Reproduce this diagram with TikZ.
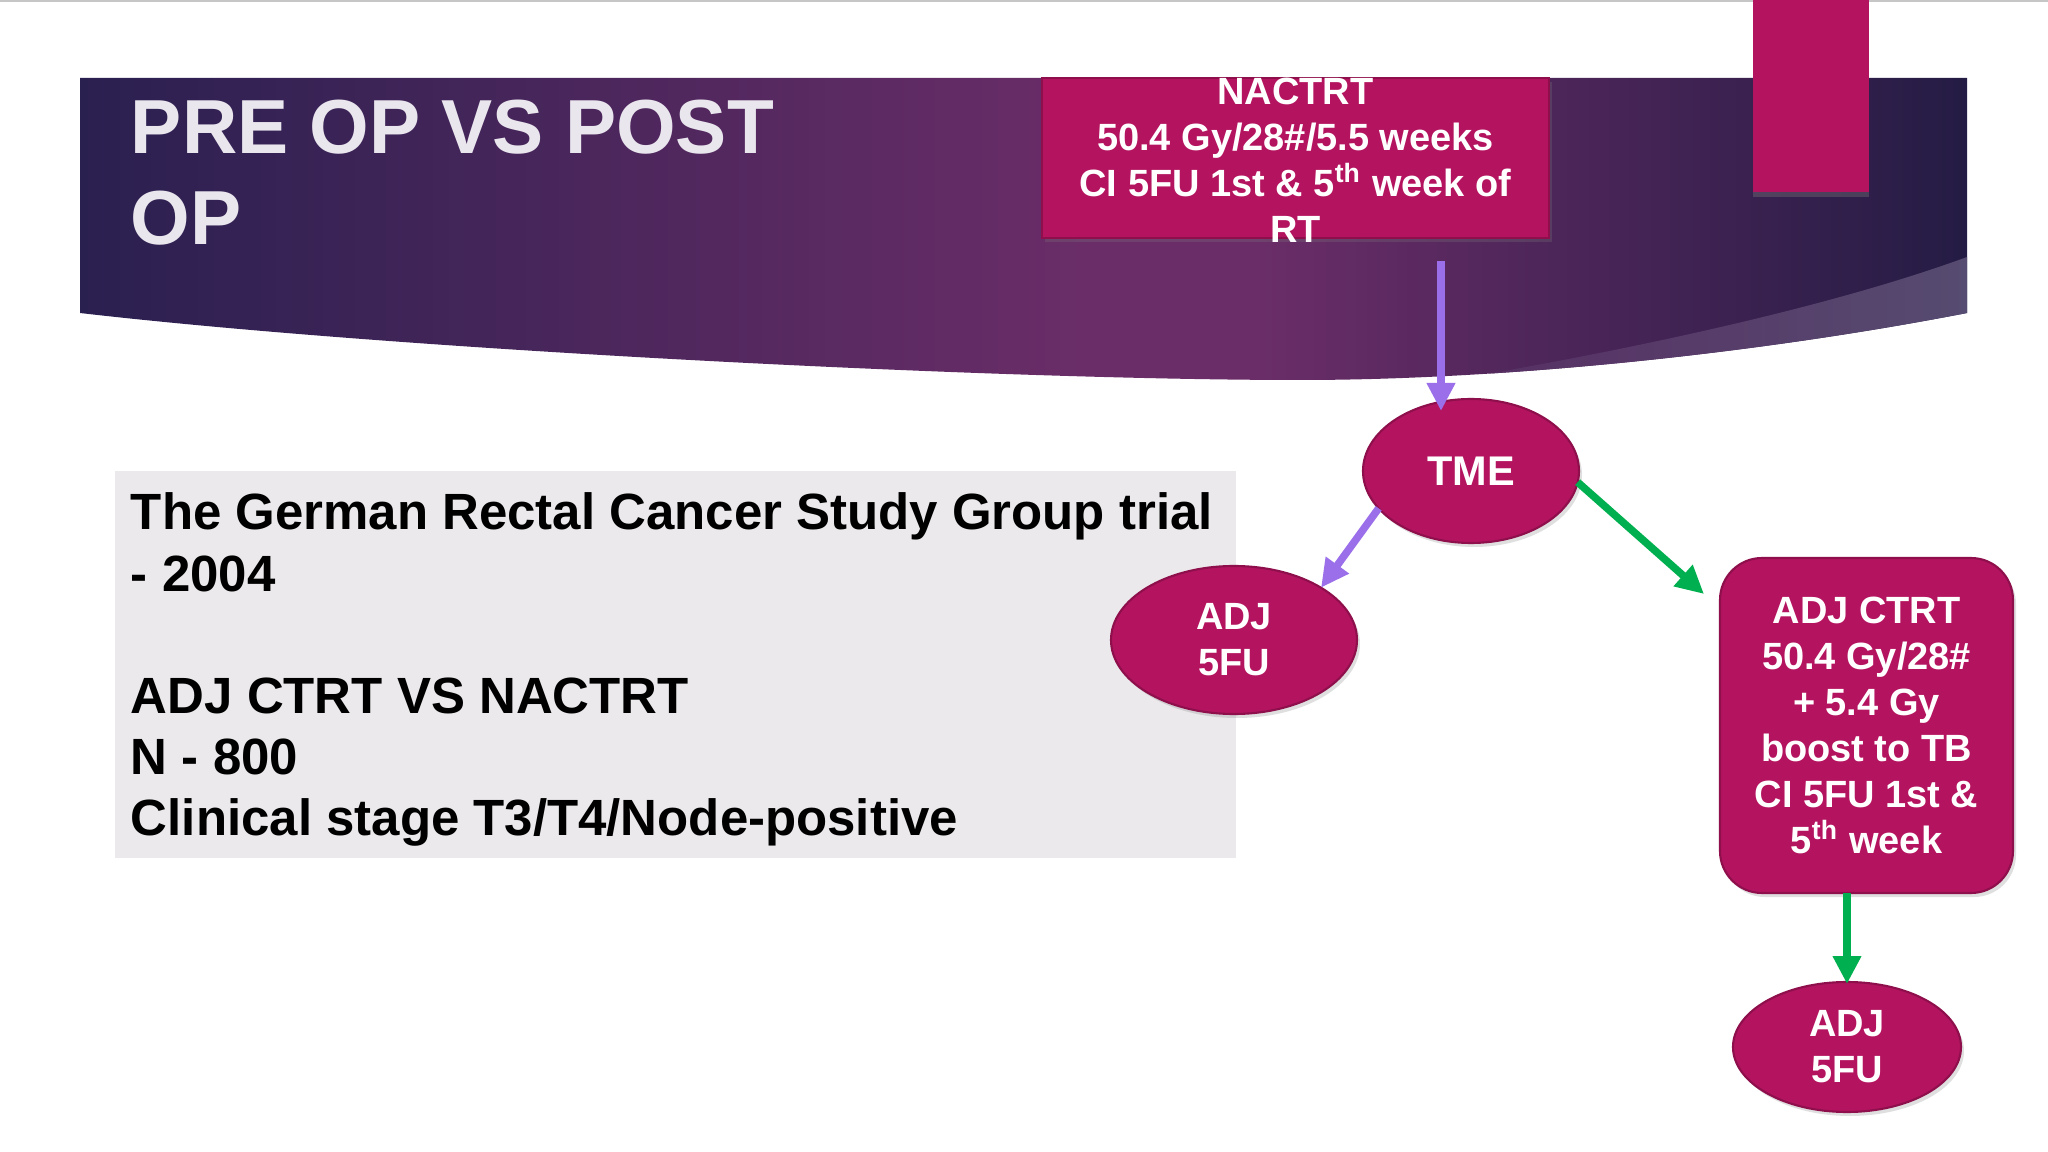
\documentclass[tikz,border=0pt]{standalone}
\usepackage{fontspec}
\setmainfont{Liberation Sans}
\usepackage{tikz}
\usetikzlibrary{shapes.geometric,arrows.meta,shadows}

\definecolor{slidepink}{HTML}{B4145F}
\definecolor{pinkedge}{HTML}{8E0F4C}
\definecolor{navy}{HTML}{2A2050}
\definecolor{plum}{HTML}{6B2D68}
\definecolor{navyright}{HTML}{241C44}
\definecolor{wedgegray}{HTML}{564B70}
\definecolor{studygray}{HTML}{EBE9EB}
\definecolor{titlewhite}{HTML}{EAE6EE}
\definecolor{arrowpurple}{HTML}{9B6FEA}
\definecolor{arrowgreen}{HTML}{00B050}
\pgfdeclarehorizontalshading{bannershade}{100bp}{color(0bp)=(navy); color(25bp)=(navy);
  color(52bp)=(plum); color(56bp)=(plum); color(75bp)=(navyright); color(100bp)=(navyright)}

\begin{document}
\begin{tikzpicture}[
  every node/.style={inner sep=0pt, outer sep=0pt},
  pinkbox/.style={fill=slidepink, draw=pinkedge, line width=0.6pt,
    drop shadow={opacity=0.25, shadow xshift=0.03cm, shadow yshift=-0.04cm}},
  pinkoval/.style={pinkbox, ellipse},
  boxtext/.style={text=white, font=\bfseries\fontsize{10.8}{13.1}\selectfont, align=center},
  purplearrow/.style={draw=arrowpurple, line width=0.075cm, -{Triangle[length=0.28cm,width=0.27cm]}},
  greenarrow/.style={draw=arrowgreen, line width=0.075cm, -{Triangle[length=0.28cm,width=0.27cm]}}
]
\useasboundingbox (0,0) rectangle (20.48,-11.52);
\fill[white] (0,0) rectangle (20.48,-11.52);
\draw[gray!45, line width=0.6pt] (0,-0.01) -- (20.48,-0.01);

\path[shading=bannershade]
  (0.80,-0.78) -- (19.67,-0.78) -- (19.67,-3.13)
  .. controls (17.5,-3.55) and (15.0,-3.80) .. (13.0,-3.80)
  .. controls (10.0,-3.80) and (4.0,-3.50) .. (0.80,-3.13) -- cycle;
\begin{scope}
\clip (19.67,-3.13)
  .. controls (17.5,-3.55) and (15.0,-3.80) .. (13.0,-3.80)
  -- (13.0,-2.0) -- (19.67,-2.0) -- cycle;
\path[left color=plum!70!navy, right color=wedgegray]
  (13.6,-3.95) .. controls (16.5,-3.50) and (18.5,-3.00) .. (19.67,-2.57)
  -- (19.67,-3.95) -- cycle;
\end{scope}

\fill[slidepink, drop shadow={opacity=0.35, shadow xshift=0cm, shadow yshift=-0.05cm}]
  (17.53,0) rectangle (18.69,-1.92);

\node[text=titlewhite, font=\bfseries\fontsize{21.8}{25.9}\selectfont, align=left, anchor=north west]
  (title) at (1.31,-1.00) {PRE OP VS POST\\OP};

\node[fill=studygray, minimum width=11.21cm, minimum height=3.87cm, anchor=north west]
  (study) at (1.15,-4.71) {};
\node[font=\bfseries\fontsize{14.5}{17.4}\selectfont, align=left, anchor=north west]
  (studytxt) at (1.31,-4.93) {The German Rectal Cancer Study Group trial\\- 2004\\[17.4pt]ADJ CTRT VS NACTRT\\N - 800\\Clinical stage T3/T4/Node-positive};

\node[pinkbox, minimum width=5.07cm, minimum height=1.60cm] (nactrt) at (12.955,-1.58) {};
\node[boxtext] (nactrttxt) at ([yshift=-0.02cm]nactrt.center) {NACTRT\\50.4 Gy/28\#/5.5 weeks\\CI 5FU 1st \& 5\textsuperscript{th} week of\\RT};

\node[pinkoval, minimum width=2.16cm, minimum height=1.44cm, boxtext, font=\bfseries\fontsize{11.8}{13.1}\selectfont] (tme) at (14.71,-4.71) {TME};
\node[pinkoval, minimum width=2.46cm, minimum height=1.48cm, boxtext] (adjl) at (12.34,-6.40) {ADJ\\5FU};
\node[pinkbox, rounded corners=0.42cm, minimum width=2.93cm, minimum height=3.35cm, boxtext] (ctrt) at (18.665,-7.255)
  {ADJ CTRT\\50.4 Gy/28\#\\+ 5.4 Gy\\boost to TB\\CI 5FU 1st \&\\5\textsuperscript{th} week};
\node[pinkoval, minimum width=2.28cm, minimum height=1.30cm, boxtext] (adjr) at (18.47,-10.47) {ADJ\\5FU};

\coordinate (drop) at (14.41,-2.61);
\draw[purplearrow] (drop) -- ([yshift=-0.12cm]drop |- tme.north);
\draw[purplearrow] (tme.202) -- (adjl.31);
\draw[greenarrow] (tme.354) -- ([shift={(-0.16,-0.36)}]ctrt.north west);
\draw[greenarrow] (ctrt.south -| adjr) -- ([yshift=-0.02cm]adjr.north);
\end{tikzpicture}
\end{document}
